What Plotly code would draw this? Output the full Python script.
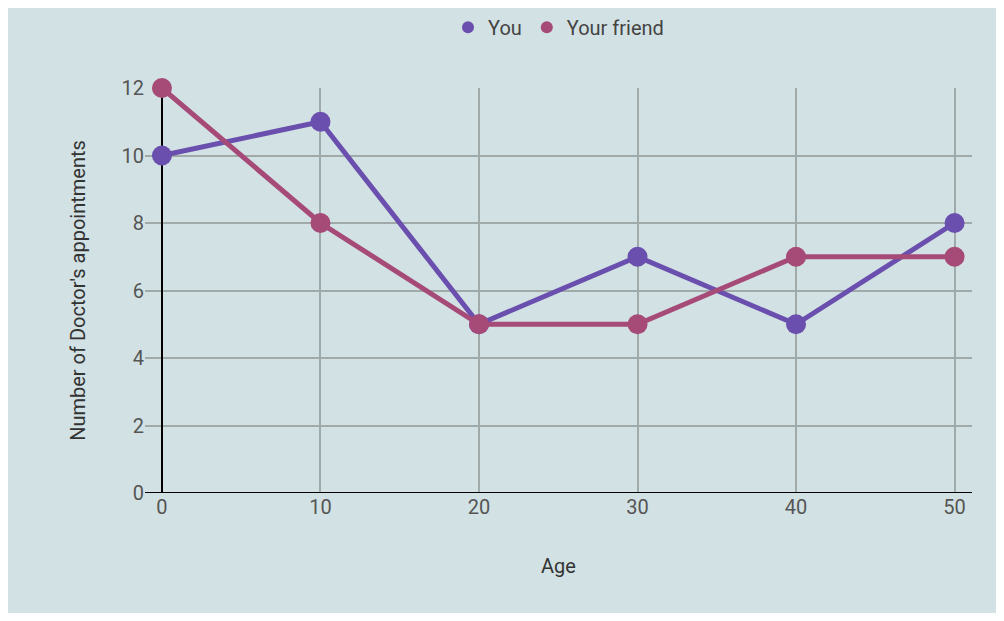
import plotly.graph_objects as go

ages = [0, 10, 20, 30, 40, 50]
you = [10, 11, 5, 7, 5, 8]
friend = [12, 8, 5, 5, 7, 7]

series = [("You", you, "#6a4fae"), ("Your friend", friend, "#a64a77")]

bg = "#d2e1e3"
fig = go.Figure()
for name, vals, color in series:
    fig.add_trace(go.Scatter(x=ages, y=vals, name=name, mode="lines+markers",
                             line=dict(color=color, width=5), showlegend=False,
                             marker=dict(size=20, color=color), cliponaxis=False))
for name, vals, color in series:
    # legend-only entries so the key shows plain dots
    fig.add_trace(go.Scatter(x=[None], y=[None], name=name, mode="markers",
                             marker=dict(size=20, color=color)))

fig.update_layout(
    width=988, height=605, paper_bgcolor=bg, plot_bgcolor=bg,
    font=dict(family="Roboto", size=20, color="#555555"),
    margin=dict(l=137, r=24, t=80, b=120, autoexpand=False),
    legend=dict(orientation="h", x=0.5, xanchor="center", y=1.15, yanchor="middle",
                font=dict(size=20, color="#444444"), itemsizing="constant"),
)
fig.update_xaxes(range=[-1.07, 51.1], tickvals=ages, showgrid=True, gridcolor="#a0aaa8",
                 gridwidth=1.5, zeroline=True, zerolinecolor="#000000", zerolinewidth=2,
                 title=dict(text="Age", font=dict(size=20, color="#333333"), standoff=40),
                 ticks="", tickfont=dict(color="#555555"))
fig.update_yaxes(range=[0, 12], dtick=2, showgrid=True, gridcolor="#a0aaa8", gridwidth=1.5,
                 zeroline=False, showline=False,
                 title=dict(text="Number of Doctor's appointments",
                            font=dict(size=20, color="#333333"), standoff=30),
                 ticks="", tickfont=dict(color="#555555"))
fig.add_shape(type="line", xref="paper", yref="y", x0=0, x1=1, y0=0, y1=0,
              line=dict(color="#000000", width=2))
fig.write_html("out.html")
